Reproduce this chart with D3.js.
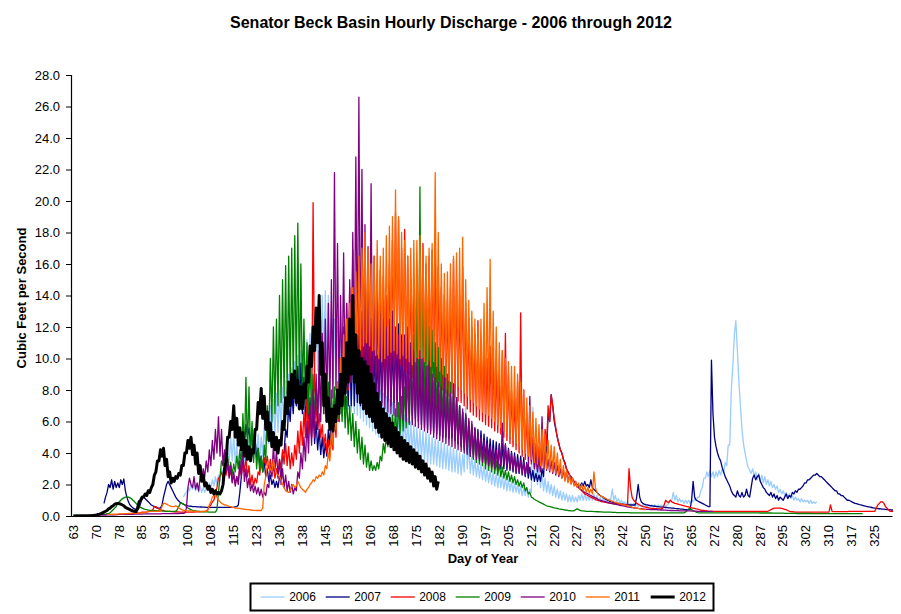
<!DOCTYPE html>
<html><head><meta charset="utf-8">
<script src="https://cdn.jsdelivr.net/npm/d3@7"></script>
<style>
body{margin:0;background:#fff}
svg{display:block;font-family:Arial,"Liberation Sans",sans-serif}
</style>
</head><body>
<svg id="chart" width="901" height="614"></svg>
<script>
// ---------- DATA (discharge, cfs; two readings per day: first half / second half of the day) ----------
const seriesNames = ["2006","2007","2008","2009","2010","2011","2012"];
const yTickValues = [0,2,4,6,8,10,12,14,16,18,20,22,24,26,28];
const xTickLabels = ["63","70","78","85","93","100","108","115","123","130","138","145","153","160","168","175","182","190","197","205","212","220","227","235","242","250","257","265","272","280","287","295","302","310","317","325"];

const start2006 = 99;
const flow2006 = [
1.2,1.4, 1.5,1.8, 1.6,2.0, 1.7,2.1, 1.6,2.0, 1.5,1.9, 1.5,1.8, 1.5,1.9, 1.6,2.1, 1.8,2.3,
1.9,2.5, 2.0,2.6, 2.2,3.0, 2.6,3.6, 3.0,4.4, 3.4,5.0, 3.5,5.2, 3.3,4.6, 3.0,4.2, 3.0,4.4,
3.2,4.6, 3.5,5.0, 3.6,5.4, 3.8,5.6, 3.6,5.2, 3.5,5.0, 3.8,5.8, 4.2,6.4, 4.6,7.0, 5.0,7.4,
5.2,7.8, 5.3,8.0, 5.5,8.2, 5.8,8.6, 6.0,9.0, 6.3,9.4, 6.6,9.8, 7.0,10.2, 7.2,10.5, 7.5,10.8,
7.8,11.2, 8.0,11.6, 8.4,12.2, 8.8,12.8, 9.2,13.4, 9.5,14.0, 9.8,14.3, 9.6,14.0, 9.0,13.2, 8.5,12.5,
8.0,12.0, 7.6,11.5, 7.2,11.0, 7.0,10.8, 6.8,10.5, 6.6,10.2, 6.5,10.0, 6.4,9.8, 6.2,9.6, 6.0,9.4,
5.8,9.0, 5.6,8.8, 5.4,8.5, 5.2,8.2, 5.0,8.0, 4.9,7.8, 4.8,7.6, 4.7,7.4, 4.6,7.2, 4.5,7.0,
4.4,6.8, 4.3,6.6, 4.2,6.4, 4.1,6.2, 4.0,6.0, 3.9,5.8, 3.8,5.6, 3.7,5.5, 3.6,5.4, 3.5,5.3,
3.4,5.2, 3.3,5.0, 3.3,4.9, 3.2,4.8, 3.1,4.7, 3.0,4.6, 3.0,4.5, 2.9,4.4, 2.8,4.3, 2.8,4.2,
2.7,4.0, 2.6,3.9, 2.8,7.0, 3.0,4.5, 2.7,3.8, 2.6,3.6, 2.5,3.4, 2.4,3.3, 2.3,3.2, 2.2,3.0,
2.1,2.9, 2.0,2.8, 1.9,2.7, 1.8,2.6, 1.8,2.5, 1.7,2.4, 1.6,2.3, 1.6,2.2, 1.5,2.1, 1.5,2.0,
1.4,1.9, 1.3,1.8, 1.3,1.8, 1.2,1.7, 1.5,6.9, 2.5,4.0, 2.0,3.2, 1.8,2.8, 1.6,2.4, 1.5,2.2,
1.4,2.0, 1.3,1.9, 1.2,1.7, 1.1,1.6, 1.0,1.5, 1.0,1.4, 0.9,1.3, 0.9,1.3, 0.9,1.2, 0.9,1.3,
1.0,1.4, 1.0,1.4, 1.0,1.3, 1.0,1.3, 1.0,1.4, 1.0,1.3, 0.9,1.2, 0.9,1.2, 0.9,1.1, 0.9,1.1,
1.0,1.7, 1.0,1.3, 0.9,1.1, 0.8,1.0, 0.8,0.9, 0.7,0.9, 0.7,0.8, 0.7,0.8, 0.6,0.8, 0.6,0.7,
0.6,0.7, 0.6,0.7, 0.6,0.7, 0.6,0.7, 0.6,0.7, 0.6,0.7, 0.6,0.7, 0.6,0.7, 0.6,0.7, 0.8,1.0,
1.0,1.5, 1.0,1.3, 0.9,1.1, 0.9,1.0, 0.8,1.0, 0.8,1.0, 0.8,1.0, 0.9,1.1, 1.0,1.2, 1.2,1.6,
1.8,2.4, 2.4,2.8, 2.5,2.9, 2.5,2.8, 2.4,2.8, 2.5,2.9, 2.6,3.0, 2.7,3.4, 3.2,4.5, 4.5,8.0,
9.5,11.5, 12.4,10.5, 8.5,7.0, 5.5,4.6, 4.0,3.5, 3.1,2.9, 2.7,3.0, 2.5,2.8, 2.3,2.7, 2.2,2.6,
2.1,2.5, 2.0,2.3, 1.9,2.2, 1.8,2.0, 1.7,1.9, 1.5,1.7, 1.4,1.6, 1.3,1.5, 1.2,1.4, 1.1,1.3,
1.0,1.2, 1.0,1.1, 0.9,1.1, 0.9,1.0, 0.9,1.0, 0.8,1.0, 0.8,0.9, 0.8,0.9
];

const start2007 = 73;
const flow2007 = [
0.8,1.2, 1.5,2.0, 1.8,2.3, 1.7,2.2, 1.8,2.1, 1.8,2.3, 2.0,2.35, 1.6,1.2, 0.9,0.7, 0.6,0.5,
0.45,0.4, 0.4,0.5, 0.8,1.1, 1.2,1.1, 1.0,0.9, 0.8,0.7, 0.65,0.6, 0.55,0.5, 0.5,0.5, 0.7,1.2,
1.6,2.0, 2.2,2.0, 1.8,1.6, 1.4,1.2, 1.05,0.95, 0.85,0.8, 0.75,0.7, 0.68,0.65, 0.63,0.62, 0.6,0.6,
0.6,0.58, 0.58,0.57, 0.57,0.56, 0.56,0.55, 0.55,0.55, 0.55,0.55, 0.55,0.55, 0.55,0.55, 0.55,0.55, 0.55,0.55,
0.55,0.55, 0.55,0.55, 0.55,0.56, 0.58,0.6, 0.7,1.5, 2.5,4.0, 4.5,5.8, 5.0,5.6, 4.5,5.2, 4.0,4.8,
3.6,4.3, 3.2,3.8, 2.8,3.4, 2.5,3.0, 2.2,2.6, 2.0,2.3, 1.8,2.2, 1.8,2.5, 2.5,4.0, 4.0,5.5,
5.0,7.0, 6.0,8.0, 6.5,8.8, 7.0,9.5, 7.0,9.7, 6.5,8.8, 6.0,8.0, 5.5,7.5, 5.0,6.8, 4.6,6.0,
4.2,5.5, 3.9,5.0, 3.7,4.6, 3.8,5.5, 4.5,6.5, 5.0,7.5, 5.5,8.5, 6.0,9.5, 6.5,10.0, 6.8,10.5,
7.0,11.0, 7.0,11.5, 7.0,11.0, 7.2,11.5, 7.0,10.8, 7.2,11.2, 7.5,11.8, 7.3,11.0, 7.0,10.5, 6.8,10.2,
7.0,10.8, 7.2,11.5, 7.5,12.0, 7.3,11.5, 7.0,11.0, 7.2,11.8, 7.5,12.2, 7.2,11.5, 7.0,11.0, 6.8,10.5,
6.6,10.2, 6.4,9.8, 6.2,9.5, 6.0,9.2, 5.8,9.0, 5.6,8.8, 5.5,8.6, 5.4,8.4, 5.3,8.2, 5.2,8.0,
5.1,7.8, 5.0,7.6, 5.0,7.5, 4.9,7.6, 5.0,7.8, 4.8,7.5, 4.6,7.0, 4.5,6.6, 4.4,6.4, 4.2,6.0,
4.0,5.8, 3.9,5.6, 3.8,5.5, 3.7,5.4, 3.6,5.2, 3.5,5.0, 3.4,4.9, 3.3,4.8, 3.2,4.7, 3.1,4.6,
3.0,4.6, 3.0,4.5, 2.9,4.3, 2.9,4.1, 2.8,4.0, 2.7,3.9, 2.7,3.8, 2.6,3.7, 2.5,3.4, 2.4,3.1,
2.3,2.9, 2.2,2.7, 2.2,2.6, 2.2,3.0, 2.5,4.5, 4.0,6.5, 6.0,7.7, 7.0,6.0, 5.5,5.0, 4.6,4.2,
4.0,3.6, 3.4,3.0, 2.8,2.6, 2.5,2.3, 2.2,2.0, 2.0,1.9, 1.9,2.1, 1.9,2.2, 1.9,2.0, 1.8,2.3,
1.8,1.7, 1.6,1.5, 1.4,1.3, 1.25,1.2, 1.1,1.05, 1.0,0.95, 0.9,0.88, 0.85,0.82, 0.8,0.8, 0.78,0.76,
0.75,0.74, 0.72,0.72, 0.7,0.7, 0.7,0.7, 0.7,1.2, 2.0,1.2, 0.9,0.8, 0.75,0.72, 0.7,0.68, 0.66,0.65,
0.63,0.62, 0.6,0.6, 0.58,0.57, 0.56,0.55, 0.54,0.53, 0.52,0.51, 0.5,0.5, 0.48,0.47, 0.46,0.45, 0.44,0.43,
0.42,0.41, 0.4,0.4, 0.4,1.0, 2.2,1.2, 1.0,0.95, 0.9,0.85, 0.8,0.75, 0.7,0.65, 0.6,0.6, 9.9,6.5,
5.0,4.4, 4.0,3.7, 3.5,3.1, 2.8,2.5, 2.3,2.1, 1.9,1.6, 1.4,1.3, 1.2,1.6, 1.3,1.2, 1.5,1.2,
1.3,1.7, 1.3,1.2, 1.8,2.4, 2.6,2.3, 2.5,2.6, 2.2,2.0, 1.8,1.7, 1.5,1.4, 1.3,1.5, 1.2,1.4,
1.1,1.3, 1.0,1.2, 1.1,1.0, 1.2,1.4, 1.1,1.3, 1.2,1.5, 1.4,1.6, 1.5,1.7, 1.7,1.8, 1.9,2.1,
2.1,2.3, 2.3,2.4, 2.5,2.6, 2.6,2.7, 2.6,2.5, 2.5,2.4, 2.3,2.2, 2.1,2.0, 1.9,1.8, 1.7,1.6,
1.6,1.4, 1.4,1.3, 1.3,1.2, 1.1,1.0, 1.0,0.95, 0.9,0.85, 0.8,0.78, 0.75,0.72, 0.7,0.68, 0.65,0.62,
0.6,0.58, 0.56,0.54, 0.52,0.5, 0.48,0.47, 0.46,0.45, 0.44,0.43, 0.42,0.41, 0.4,0.4, 0.38,0.38
];

const start2008 = 78;
const flow2008 = [
0.1,0.1, 0.1,0.1, 0.1,0.1, 0.12,0.12, 0.15,0.15, 0.18,0.18, 0.2,0.2, 0.22,0.25, 0.25,0.25, 0.25,0.28,
0.3,0.3, 0.4,0.6, 0.6,0.5, 0.45,0.4, 0.35,0.35, 0.3,0.3, 0.3,0.3, 0.28,0.28, 0.27,0.27, 0.26,0.26,
0.25,0.25, 0.25,0.25, 0.25,0.25, 0.25,0.25, 0.25,0.25, 0.26,0.26, 0.27,0.27, 0.28,0.28, 0.3,0.3, 0.4,0.6,
0.7,0.9, 1.0,1.4, 1.8,2.4, 2.5,2.8, 2.4,3.0, 2.6,3.2, 2.5,2.9, 2.2,2.6, 2.0,2.5, 2.2,3.0,
2.6,3.5, 2.8,3.7, 2.5,3.2, 2.0,2.6, 1.9,2.4, 2.1,2.8, 2.6,3.4, 3.0,3.7, 3.2,3.8, 3.0,3.6,
2.6,3.2, 2.4,3.0, 2.5,3.6, 3.0,4.2, 3.3,4.6, 3.2,4.4, 3.0,4.0, 3.2,4.5, 3.6,5.4, 4.0,6.0,
4.5,6.6, 5.0,7.8, 5.2,7.0, 5.0,19.9, 8.0,7.0, 5.5,6.5, 5.0,5.8, 4.4,5.2, 4.0,4.8, 3.8,5.0,
4.2,6.5, 5.0,8.0, 6.0,10.0, 7.0,12.0, 7.5,13.5, 8.0,14.5, 8.5,16.9, 9.0,15.0, 8.8,14.0, 8.5,13.0,
8.5,14.5, 9.0,13.5, 8.6,12.5, 8.4,13.5, 8.8,14.8, 9.0,15.6, 9.2,15.2, 9.0,14.0, 9.2,16.0, 9.5,17.5,
9.8,19.2, 10.0,18.8, 9.6,17.0, 9.5,18.2, 9.2,16.5, 9.0,15.0, 8.8,14.2, 8.6,14.8, 8.8,15.5, 9.0,17.3,
9.0,16.0, 8.8,16.5, 8.6,16.9, 8.8,17.3, 8.5,15.8, 8.2,14.5, 8.0,14.0, 7.8,13.7, 7.6,14.5, 7.8,16.3,
7.5,15.0, 7.3,14.0, 7.2,15.8, 7.0,13.5, 6.8,12.6, 6.6,12.0, 6.4,11.5, 6.3,12.4, 6.1,11.0, 6.0,10.5,
5.8,10.0, 5.7,10.8, 5.6,10.2, 5.4,9.5, 5.3,9.0, 5.2,10.5, 5.0,11.6, 4.8,9.0, 4.6,8.0, 4.4,7.5,
4.2,8.5, 4.0,12.9, 3.8,8.0, 3.6,6.5, 3.5,5.5, 3.3,5.0, 3.1,4.6, 3.0,4.4, 2.9,4.2, 3.0,5.5,
4.5,7.0, 6.0,7.7, 7.0,6.2, 5.6,5.0, 4.6,4.2, 4.0,3.6, 3.3,3.0, 2.8,2.6, 2.5,2.3, 2.2,2.0,
1.9,1.8, 1.7,1.6, 1.5,1.4, 1.35,1.3, 1.25,1.2, 1.15,1.1, 1.05,1.0, 1.0,0.95, 0.92,0.9, 0.88,0.86,
0.84,0.82, 0.8,0.8, 0.78,0.77, 0.76,0.75, 0.74,0.73, 0.72,0.71, 0.7,0.7, 3.0,1.8, 1.2,1.0, 0.9,0.8,
0.75,0.7, 0.65,0.6, 0.58,0.56, 0.54,0.52, 0.5,0.49, 0.48,0.47, 0.46,0.45, 0.45,0.44, 0.5,0.7, 1.0,0.9,
0.85,1.0, 0.9,0.85, 0.8,0.78, 0.75,0.72, 0.7,0.68, 0.65,0.62, 0.6,0.58, 0.55,0.52, 0.5,0.48, 0.45,0.43,
0.4,0.38, 0.36,0.35, 0.33,0.32, 0.3,0.3, 0.3,0.3, 0.3,0.3, 0.3,0.3, 0.3,0.3, 0.3,0.3, 0.3,0.3,
0.3,0.3, 0.3,0.3, 0.3,0.3, 0.3,0.3, 0.3,0.3, 0.3,0.3, 0.3,0.3, 0.3,0.3, 0.3,0.3, 0.3,0.3,
0.3,0.3, 0.3,0.3, 0.3,0.3, 0.35,0.4, 0.45,0.5, 0.5,0.5, 0.5,0.5, 0.48,0.45, 0.42,0.4, 0.35,0.3,
0.28,0.27, 0.26,0.25, 0.25,0.25, 0.25,0.25, 0.25,0.25, 0.25,0.25, 0.25,0.25, 0.25,0.25, 0.25,0.25, 0.25,0.25,
0.25,0.25, 0.25,0.25, 0.25,0.25, 0.7,0.3, 0.28,0.28, 0.28,0.28, 0.28,0.28, 0.28,0.28, 0.28,0.28, 0.3,0.3,
0.3,0.3, 0.3,0.3, 0.3,0.3, 0.3,0.3, 0.3,0.3, 0.3,0.3, 0.3,0.3, 0.3,0.3, 0.5,0.7, 0.8,0.9,
0.9,0.8, 0.6,0.5, 0.4,0.3, 0.3,0.3
];

const start2009 = 63;
const flow2009 = [
0.05,0.05, 0.05,0.05, 0.05,0.05, 0.05,0.05, 0.05,0.05, 0.06,0.06, 0.07,0.07, 0.08,0.08, 0.09,0.09, 0.1,0.1,
0.1,0.1, 0.15,0.15, 0.2,0.3, 0.4,0.5, 0.6,0.8, 0.9,1.0, 1.1,1.15, 1.2,1.2, 1.2,1.15, 1.1,1.0,
0.9,0.8, 0.7,0.6, 0.55,0.5, 0.45,0.42, 0.4,0.38, 0.36,0.35, 0.35,0.34, 0.34,0.33, 0.33,0.32, 0.32,0.31,
0.31,0.3, 0.3,0.3, 0.3,0.3, 0.3,0.3, 0.4,0.6, 0.8,0.8, 0.75,0.7, 0.6,0.5, 0.45,0.4, 0.35,0.33,
0.32,0.3, 0.3,0.28, 0.28,0.27, 0.27,0.26, 0.26,0.25, 0.25,0.25, 0.25,0.25, 0.4,1.5, 2.5,3.5, 3.2,4.0,
3.0,3.8, 2.8,3.4, 2.6,3.3, 2.8,3.8, 3.0,4.2, 3.2,6.5, 3.8,8.8, 4.0,8.2, 3.8,6.0, 3.4,5.0,
3.0,4.3, 2.8,3.8, 2.8,4.5, 3.5,7.0, 5.0,10.0, 6.0,12.0, 6.5,12.5, 7.0,14.0, 7.2,15.0, 7.5,15.9,
7.8,16.5, 8.0,17.0, 8.2,17.8, 8.4,18.6, 8.0,16.0, 7.5,12.5, 7.0,11.0, 6.5,10.0, 6.1,9.0, 6.2,8.5,
6.5,9.0, 6.6,9.5, 6.5,9.0, 6.0,8.5, 5.8,8.0, 5.9,8.2, 6.1,8.5, 6.2,8.6, 6.0,8.2, 5.6,7.6,
5.2,7.0, 4.8,6.5, 4.4,6.0, 4.0,5.5, 3.6,5.0, 3.3,4.5, 3.1,4.0, 2.9,3.5, 2.9,3.2, 2.9,3.4,
3.0,3.8, 3.5,4.6, 4.0,5.4, 4.4,6.0, 4.6,6.4, 4.8,6.8, 5.0,7.2, 5.2,7.6, 5.4,8.2, 5.6,9.0,
5.8,10.0, 6.0,11.5, 6.5,14.0, 7.0,20.9, 7.0,15.4, 6.8,13.0, 6.6,12.0, 6.4,11.8, 6.2,11.0, 6.0,10.7,
5.8,10.0, 5.6,9.5, 5.4,9.0, 5.2,8.5, 5.0,8.0, 4.8,7.5, 4.6,7.0, 4.4,6.6, 4.2,6.3, 4.0,6.0,
3.8,5.7, 3.6,5.4, 3.4,5.1, 3.3,4.8, 3.2,4.5, 3.0,4.2, 2.9,4.0, 2.8,3.8, 2.7,3.5, 2.6,3.3,
2.5,3.1, 2.4,2.9, 2.3,2.8, 2.2,2.6, 2.1,2.5, 2.0,2.3, 1.9,2.2, 1.8,2.1, 1.6,1.8, 1.4,1.5,
1.2,1.15, 1.05,1.0, 0.95,0.9, 0.85,0.8, 0.75,0.7, 0.65,0.62, 0.6,0.58, 0.55,0.52, 0.5,0.48, 0.45,0.44,
0.42,0.4, 0.38,0.37, 0.35,0.34, 0.33,0.33, 0.33,0.4, 0.45,0.4, 0.35,0.33, 0.32,0.31, 0.3,0.3, 0.3,0.3,
0.29,0.28, 0.28,0.27, 0.27,0.26, 0.26,0.25, 0.25,0.25, 0.24,0.24, 0.24,0.23, 0.23,0.23, 0.22,0.22, 0.22,0.22,
0.22,0.21, 0.21,0.21, 0.21,0.2, 0.2,0.2, 0.2,0.2, 0.2,0.2, 0.2,0.2, 0.2,0.2, 0.2,0.2, 0.2,0.2,
0.2,0.2, 0.2,0.2, 0.2,0.2, 0.2,0.2, 0.2,0.2, 0.2,0.2, 0.2,0.2, 0.2,0.2, 0.2,0.2, 0.2,0.2,
0.2,0.25, 0.35,0.45, 0.45,0.4, 0.35,0.3, 0.25,0.22, 0.2,0.2, 0.2,0.2, 0.2,0.2, 0.2,0.2, 0.2,0.2,
0.2,0.2, 0.2,0.2, 0.2,0.2, 0.2,0.2, 0.2,0.2, 0.2,0.2, 0.2,0.2, 0.2,0.2, 0.2,0.2, 0.2,0.2,
0.2,0.2, 0.2,0.2, 0.2,0.2, 0.2,0.2, 0.2,0.2, 0.19,0.19, 0.19,0.19, 0.19,0.19, 0.19,0.19, 0.18,0.18,
0.18,0.18, 0.18,0.18, 0.18,0.18, 0.17,0.17, 0.17,0.17, 0.17,0.17, 0.17,0.17, 0.16,0.16, 0.16,0.16, 0.16,0.16,
0.16,0.16, 0.16,0.16, 0.15,0.15, 0.15,0.15, 0.15,0.15, 0.15,0.15, 0.15,0.15, 0.15,0.15, 0.15,0.15, 0.15,0.15,
0.15,0.15, 0.15,0.15, 0.15,0.15, 0.15,0.15, 0.15,0.15, 0.15,0.15, 0.15,0.15, 0.15,0.15, 0.15,0.15
];

const start2010 = 63;
const flow2010 = [
0.03,0.03, 0.03,0.03, 0.04,0.04, 0.04,0.04, 0.04,0.04, 0.05,0.05, 0.05,0.05, 0.05,0.05, 0.05,0.05, 0.06,0.06,
0.06,0.06, 0.07,0.07, 0.08,0.08, 0.08,0.08, 0.09,0.09, 0.1,0.1, 0.1,0.1, 0.1,0.1, 0.11,0.11, 0.11,0.11,
0.12,0.12, 0.12,0.12, 0.12,0.12, 0.13,0.13, 0.13,0.13, 0.13,0.13, 0.14,0.14, 0.14,0.14, 0.14,0.14, 0.15,0.15,
0.15,0.15, 0.15,0.15, 0.15,0.15, 0.16,0.16, 0.16,0.16, 0.17,0.17, 0.17,0.2, 0.5,1.8, 2.4,2.0, 1.8,2.5,
1.7,2.1, 1.6,2.5, 2.2,3.0, 2.5,3.5, 2.8,4.2, 3.2,4.8, 3.6,5.5, 4.0,6.3, 3.8,5.5, 3.2,4.2,
2.8,3.6, 2.4,3.2, 2.1,2.8, 1.9,2.5, 2.0,3.5, 2.5,4.0, 2.2,3.0, 1.8,2.4, 1.6,2.0, 1.5,1.9,
1.4,1.8, 1.3,1.7, 1.2,1.5, 1.3,2.0, 1.8,3.2, 2.5,4.5, 2.8,4.2, 2.4,3.6, 2.0,3.0, 1.8,2.6,
1.6,2.2, 1.5,2.0, 1.4,1.8, 1.6,2.8, 2.4,4.0, 3.0,5.0, 3.5,6.0, 4.0,7.0, 4.5,8.0, 5.0,9.0,
5.5,10.5, 6.0,11.6, 6.5,12.5, 7.0,13.5, 7.0,15.0, 7.5,21.8, 8.0,17.3, 8.0,14.0, 8.2,16.7, 8.0,13.5,
8.2,15.0, 8.5,18.0, 9.0,22.8, 9.5,26.6, 9.0,22.0, 8.5,18.5, 8.2,17.1, 8.0,21.1, 7.8,16.5, 7.5,14.0,
7.3,13.0, 7.0,12.5, 6.8,12.0, 6.6,12.5, 6.5,13.0, 6.4,12.0, 6.3,11.5, 6.2,11.0, 6.1,11.5, 6.0,12.0,
5.9,11.0, 5.8,10.5, 5.7,10.0, 5.6,10.5, 5.5,10.0, 5.4,9.5, 5.3,9.8, 5.2,9.0, 5.0,8.8, 4.9,8.5,
4.8,8.2, 4.7,8.8, 4.6,8.0, 4.5,7.8, 4.4,8.4, 4.3,7.5, 4.2,7.0, 4.1,6.8, 4.0,6.5, 3.9,6.2,
3.8,6.0, 3.7,5.6, 3.6,5.3, 3.5,5.0, 3.4,4.8, 3.3,4.6, 3.2,4.4, 3.1,4.3, 3.0,4.2, 3.0,4.5,
3.2,5.9, 3.3,4.6, 3.1,4.2, 3.0,4.0, 2.9,3.8, 2.8,3.6, 2.8,3.5, 2.7,3.4, 2.6,3.3, 2.7,7.6,
3.5,4.6, 3.0,4.0, 2.8,3.7, 2.8,6.3, 3.2,4.2, 2.9,3.6, 2.8,3.5, 2.7,3.4, 2.6,3.2, 2.5,3.0,
2.4,2.9, 2.3,2.8, 2.2,2.6, 2.1,2.4, 2.0,2.2, 1.85,1.8, 1.7,1.65, 1.55,1.5, 1.45,1.4, 1.35,1.3,
1.25,1.2, 1.15,1.1, 1.05,1.0, 0.98,0.95, 0.92,0.9, 0.86,0.84, 0.8,0.78, 0.76,0.75, 0.72,0.7, 0.68,0.66,
0.64,0.62, 0.6,0.58, 0.56,0.55, 0.53,0.52, 0.5,0.5, 0.48,0.47, 0.46,0.45, 0.44,0.43, 0.42,0.42, 0.41,0.41,
0.4,0.4, 0.4,0.39, 0.39,0.38, 0.38,0.37, 0.37,0.36, 0.36,0.35, 0.35,0.35, 0.34,0.34, 0.34,0.33, 0.33,0.33,
0.33,0.32, 0.32,0.32, 0.32,0.31, 0.31,0.31, 0.31,0.3, 0.3,0.3, 0.3,0.3, 0.3,0.3, 0.3,0.3, 0.3,0.3
];

const start2011 = 74;
const flow2011 = [
0.1,0.1, 0.1,0.1, 0.11,0.11, 0.12,0.12, 0.13,0.13, 0.14,0.14, 0.15,0.15, 0.16,0.16, 0.17,0.17, 0.18,0.18,
0.19,0.19, 0.2,0.2, 0.22,0.22, 0.25,0.3, 0.3,0.3, 0.3,0.3, 0.3,0.3, 0.3,0.3, 0.6,0.8, 0.8,0.75,
0.7,0.65, 0.6,0.6, 0.6,0.65, 0.6,0.5, 0.45,0.4, 0.35,0.35, 0.33,0.33, 0.32,0.32, 0.31,0.31, 0.3,0.3,
0.3,0.3, 0.3,0.3, 0.3,0.3, 0.4,0.7, 0.9,1.2, 1.3,1.4, 1.2,1.0, 0.9,0.8, 0.75,0.7, 0.7,0.65,
0.6,0.6, 0.55,0.55, 0.5,0.5, 0.48,0.48, 0.45,0.45, 0.42,0.42, 0.4,0.4, 0.38,0.38, 0.36,0.36, 0.35,0.35,
0.35,0.35, 0.5,2.0, 2.5,3.2, 3.4,3.0, 2.8,3.6, 3.0,2.7, 2.6,2.5, 2.3,2.0, 1.8,1.6, 1.55,1.5,
1.6,1.9, 2.0,1.8, 1.9,2.2, 2.0,1.8, 1.7,1.6, 1.5,1.7, 1.8,2.0, 2.1,2.3, 2.2,2.5, 2.4,2.6,
2.5,2.8, 2.6,3.2, 3.0,4.0, 3.5,5.5, 4.5,7.0, 5.5,8.5, 6.5,10.0, 7.5,11.5, 8.0,12.5, 8.5,13.5,
9.0,14.5, 9.5,15.5, 10.0,16.5, 10.5,17.0, 10.8,18.0, 11.0,17.0, 10.8,16.0, 10.5,16.5, 10.2,17.5, 10.0,16.5,
9.8,17.0, 10.0,17.8, 10.2,18.4, 10.4,19.0, 10.5,20.7, 10.3,19.0, 10.0,18.0, 10.2,17.5, 10.0,16.5, 9.8,17.0,
9.6,17.5, 9.8,17.5, 10.0,17.8, 10.0,17.0, 9.8,16.5, 9.6,17.0, 9.5,17.3, 9.8,21.8, 9.5,18.0, 9.2,16.0,
9.0,15.4, 8.8,15.5, 8.6,16.0, 8.5,16.5, 8.4,16.7, 8.2,17.0, 8.0,17.7, 7.8,15.0, 7.6,13.7, 7.4,13.0,
7.2,12.5, 7.0,12.0, 6.8,12.5, 6.6,13.5, 6.5,14.5, 6.4,16.3, 6.2,13.0, 6.0,12.0, 5.8,11.0, 5.6,10.5,
5.4,10.0, 5.2,9.8, 5.0,9.5, 4.8,9.5, 4.6,9.0, 4.4,8.5, 4.2,8.0, 4.0,7.5, 3.8,7.0, 3.6,6.6,
3.4,6.2, 3.3,5.8, 3.2,5.5, 3.1,5.2, 3.0,4.8, 2.9,4.5, 2.8,4.4, 2.7,4.0, 2.6,3.6, 2.4,3.2,
2.2,2.9, 2.1,2.6, 2.0,2.4, 1.9,2.2, 1.8,2.1, 1.7,2.0, 1.6,1.9, 1.5,1.8, 1.45,1.7, 1.4,2.8,
1.8,1.5, 1.35,1.3, 1.25,1.2, 1.15,1.1, 1.05,1.0, 0.98,0.95, 0.9,0.88, 0.84,0.82, 0.78,0.76, 0.72,0.7,
0.67,0.65, 0.62,0.6, 0.57,0.55, 0.52,0.5, 0.48,0.46, 0.44,0.42, 0.4,0.4
];

const start2012 = 63;
const flow2012 = [
0,0, 0,0, 0,0, 0,0, 0,0, 0,0, 0.02,0.02, 0.05,0.05, 0.1,0.12, 0.15,0.2,
0.25,0.3, 0.35,0.45, 0.5,0.6, 0.65,0.75, 0.78,0.8, 0.78,0.75, 0.7,0.65, 0.55,0.5, 0.45,0.4, 0.35,0.32,
0.3,0.28, 0.5,0.9, 1.0,1.2, 1.2,1.4, 1.3,1.6, 1.5,1.8, 2.0,2.6, 2.8,3.5, 3.5,4.2, 3.8,4.3,
3.2,3.6, 2.5,2.8, 2.1,2.4, 2.2,2.5, 2.4,2.7, 2.6,3.2, 3.2,4.0, 4.0,4.8, 4.3,5.0, 3.9,4.5,
3.3,4.0, 2.7,3.2, 2.2,2.6, 1.9,2.1, 1.7,1.9, 1.5,1.7, 1.4,1.6, 1.4,1.5, 1.4,1.6, 2.0,3.0,
3.5,5.0, 5.0,6.0, 5.5,7.0, 5.0,6.2, 4.5,5.6, 4.2,5.3, 3.8,4.8, 3.6,4.4, 3.5,4.2, 4.0,5.5,
5.5,7.2, 6.5,8.1, 6.2,7.6, 5.5,6.6, 4.8,5.9, 4.4,5.3, 4.2,5.0, 4.0,4.8, 4.5,6.0, 5.5,7.5,
6.5,8.5, 7.0,9.0, 7.5,9.2, 7.2,8.6, 6.8,8.2, 6.8,8.4, 7.5,9.5, 8.5,10.8, 9.5,12.0, 10.5,13.2,
11.0,14.0, 9.0,11.0, 7.0,9.0, 6.0,7.5, 5.5,6.8, 5.4,7.0, 6.0,8.0, 6.5,9.0, 7.0,10.0, 7.8,11.0,
8.5,12.5, 9.0,14.0, 8.5,11.5, 7.8,10.5, 7.2,10.0, 6.8,9.8, 6.5,9.5, 6.3,9.0, 6.0,8.4, 5.6,7.8,
5.3,7.2, 5.0,6.8, 4.8,6.5, 4.6,6.2, 4.4,5.9, 4.2,5.6, 4.0,5.3, 3.8,5.0, 3.6,4.8, 3.5,4.6,
3.4,4.4, 3.3,4.2, 3.1,4.0, 3.0,3.8, 2.8,3.5, 2.6,3.3, 2.4,3.0, 2.2,2.8, 1.9,2.5, 1.7,2.2
];

const seriesStarts = [start2006,start2007,start2008,start2009,start2010,start2011,start2012];
const seriesFlows  = [flow2006,flow2007,flow2008,flow2009,flow2010,flow2011,flow2012];

// ---------- STYLE ----------
const colors = ["#99CCFF","#000080","#FF0000","#008000","#800080","#FF6600","#000000"];
const widths = [1.3,1.3,1.3,1.3,1.3,1.3,3];
const FONT = "Arial, 'Liberation Sans', sans-serif";

// ---------- CHART ----------
const svg = d3.select("#chart");
const x = d3.scaleLinear().domain([62.44, 331.4]).range([71, 892]);
const y = d3.scaleLinear().domain([0, 28]).range([516, 75]);

const series = seriesNames.map((name,i)=>({
  name, color: colors[i], width: widths[i],
  pts: seriesFlows[i].map((v,j)=>[seriesStarts[i] + j*0.5 + 0.25, v])
}));

const line = d3.line().x(d=>x(d[0])).y(d=>y(d[1]));

svg.append("defs").append("clipPath").attr("id","clip")
  .append("rect").attr("x",71).attr("y",70).attr("width",822).attr("height",446);

const g = svg.append("g").attr("clip-path","url(#clip)");
g.selectAll("path.s").data(series).join("path")
  .attr("class","s")
  .attr("d", d=>line(d.pts))
  .attr("fill","none")
  .attr("stroke", d=>d.color)
  .attr("stroke-width", d=>d.width)
  .attr("stroke-linejoin","round");

// Y axis
const yAxis = d3.axisLeft(y).tickValues(yTickValues).tickFormat(d3.format(".1f")).tickSize(5).tickPadding(6);
const gy = svg.append("g").attr("transform","translate(71,0)").call(yAxis);
gy.select(".domain").attr("stroke","#000").attr("stroke-width",1.2);
gy.selectAll(".tick line").attr("stroke","#000");
gy.selectAll("text").attr("font-size","13px").attr("fill","#000").attr("font-family",FONT);

// X axis
const xTickPos = xTickLabels.map((_,k)=>63 + 7.5*k);
const xAxis = d3.axisBottom(x).tickValues(xTickPos).tickFormat((d,i)=>xTickLabels[i]).tickSize(0).tickSizeOuter(0);
const gx = svg.append("g").attr("transform","translate(0,516)").call(xAxis);
gx.select(".domain").attr("stroke","#000").attr("stroke-width",1.2);
gx.selectAll("text")
  .attr("font-size","13px").attr("fill","#000")
  .attr("font-family",FONT)
  .attr("transform","rotate(-90)")
  .attr("text-anchor","end")
  .attr("x",-9).attr("y",0).attr("dy","0.35em");

// Titles
svg.append("text").attr("x",451).attr("y",28).attr("text-anchor","middle")
  .attr("font-size","16px").attr("font-weight","bold").attr("font-family",FONT)
  .text("Senator Beck Basin Hourly Discharge - 2006 through 2012");
svg.append("text").attr("x",483).attr("y",563).attr("text-anchor","middle")
  .attr("font-size","13px").attr("font-weight","bold").attr("font-family",FONT).text("Day of Year");
svg.append("text").attr("transform","translate(26,298) rotate(-90)").attr("text-anchor","middle")
  .attr("font-size","13px").attr("font-weight","bold").attr("font-family",FONT).text("Cubic Feet per Second");

// Legend
const lg = svg.append("g");
lg.append("rect").attr("x",250.5).attr("y",583.5).attr("width",463).attr("height",27)
  .attr("fill","#fff").attr("stroke","#000").attr("stroke-width",2);
const items = lg.selectAll("g.item").data(series).join("g").attr("class","item")
  .attr("transform",(d,i)=>`translate(${260.7 + 65*i},597)`);
items.append("line").attr("x1",0).attr("x2",24).attr("y1",0).attr("y2",0)
  .attr("stroke",d=>d.color).attr("stroke-width",d=>d.width);
items.append("text").attr("x",28.5).attr("y",0).attr("dy","0.35em")
  .attr("font-size","12px").attr("font-family",FONT).text(d=>d.name);
</script>
</body></html>
